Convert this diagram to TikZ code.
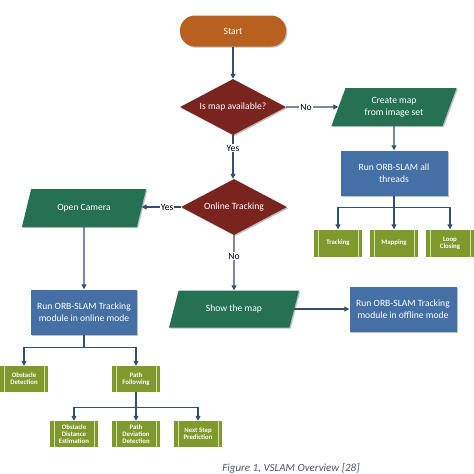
\documentclass[tikz,border=0pt]{standalone}
\usepackage{fontspec}
\setmainfont{Carlito}
\usepackage{tikz}
\usetikzlibrary{shapes.geometric, shapes.misc, arrows.meta, positioning, calc, shadows}
\definecolor{startcol}{RGB}{184,96,32}
\definecolor{decicol}{RGB}{122,36,32}
\definecolor{iocol}{RGB}{38,112,84}
\definecolor{proccol}{RGB}{68,112,166}
\definecolor{subcol}{RGB}{126,154,44}
\definecolor{linecol}{RGB}{52,78,112}
\definecolor{captcol}{RGB}{78,90,112}
\tikzset{
  softshadow/.style={drop shadow={shadow xshift=1.2pt, shadow yshift=-1.2pt, opacity=0.25, fill=black}},
}

\begin{document}
\begin{tikzpicture}[
  x=1pt,y=1pt,
  terminal/.style={
    rectangle, rounded corners=15pt, fill=startcol, text=white,
    minimum width=106pt, minimum height=31pt, font=\fontsize{9.6}{11.5}\selectfont, softshadow
  },
  decision/.style={
    diamond, aspect=2, inner sep=0pt, fill=decicol, text=white,
    minimum width=106pt, minimum height=56pt, font=\fontsize{9.6}{11.5}\selectfont, softshadow
  },
  io/.style={
    trapezium, trapezium left angle=70, trapezium right angle=110, trapezium stretches=true,
    fill=iocol, text=white, minimum width=126pt, minimum height=38pt,
    align=center, font=\fontsize{9.6}{11.5}\selectfont, softshadow
  },
  process/.style={
    rectangle, fill=proccol, text=white, minimum width=107pt, minimum height=45pt,
    align=center, font=\fontsize{9.6}{11.5}\selectfont, softshadow
  },
  subproc/.style={
    rectangle, fill=subcol, text=white, minimum width=48pt, minimum height=26pt,
    inner sep=1pt, align=center, font=\fontsize{6.8}{7}\selectfont\bfseries,
    path picture={
      \draw[white!65!subcol, line width=0.8pt]
        ([xshift=4pt]path picture bounding box.north west) -- ([xshift=4pt]path picture bounding box.south west)
        ([xshift=-4pt]path picture bounding box.north east) -- ([xshift=-4pt]path picture bounding box.south east);
    }
  },
  arrow/.style={-{Triangle[length=5pt,width=5pt]}, line width=1.3pt, draw=linecol},
  lbl/.style={font=\fontsize{9.6}{11.5}\selectfont, fill=white, inner sep=1pt}
]
\useasboundingbox (0,0) rectangle (474,-474);

% ---- main column ----
\node[terminal] (start)   at (233,-31)  {Start};
\node[decision] (avail)   at (233,-107) {Is map available?};
\node[decision] (online)  at (234,-207) {Online Tracking};
\node[io, minimum width=130pt, minimum height=37pt] (showmap) at (234,-309) {Show the map};

% ---- offline map building (right) ----
\node[io]      (create)  at (394,-107) {Create map\\from image set};
\node[process] (allthr)  at (394,-173) {Run ORB-SLAM all\\threads};
\node[subproc, minimum height=27pt] (track)   at (338,-243) {Tracking};
\node[subproc, minimum height=27pt] (mapping) at (394,-243) {Mapping};
\node[subproc, minimum height=27pt] (loopcl)  at (450,-243) {Loop\\Closing};
\node[process] (offline) at (403,-309) {Run ORB-SLAM Tracking\\module in offline mode};

% ---- online tracking (left) ----
\node[io, minimum width=125pt] (opencam) at (84,-208) {Open Camera};
\node[process, minimum width=106pt] (onmode) at (84,-312) {Run ORB-SLAM Tracking\\module in online mode};
\node[subproc] (obst)  at (24,-379)  {Obstacle\\Detection};
\node[subproc] (pathf) at (136,-379) {Path\\Following};
\node[subproc] (odist) at (74,-434)  {Obstacle\\Distance\\Estimation};
\node[subproc] (pdev)  at (136,-434) {Path\\Deviation\\Detection};
\node[subproc] (nstep) at (198,-434) {Next Step\\Prediction};

% ---- connectors ----
\draw[arrow] (start) -- (avail);
\draw[arrow] (avail.east) -- node[lbl, pos=0.38] {No} (create.west);
\draw[arrow] (avail.south) -- node[lbl, pos=0.3] {Yes} (avail.south |- online.north);
\draw[arrow] (online.west) -- node[lbl, pos=0.35] {Yes} (online.west -| opencam.east);
\draw[arrow] (online.south) -- node[lbl, pos=0.38] {No} (showmap.north);
\draw[arrow] (showmap.east) -- (showmap.east -| offline.west);

\draw[arrow] (create) -- (allthr);
\draw[arrow] (allthr.south) -- ++(0,-12) -| (track.north);
\draw[arrow] (allthr.south) -- (mapping.north);
\draw[arrow] (allthr.south) -- ++(0,-12) -| (loopcl.north);

\draw[arrow] (opencam) -- (onmode);
\draw[arrow] (onmode.south) -- ++(0,-13) -| (obst.north);
\draw[arrow] (onmode.south) -- ++(0,-13) -| (pathf.north);

\draw[arrow] (pathf.south) -- ++(0,-15) -| (odist.north);
\draw[arrow] (pathf.south) -- (pdev.north);
\draw[arrow] (pathf.south) -- ++(0,-15) -| (nstep.north);

% ---- caption ----
\node[font=\fontsize{11}{13}\selectfont\itshape, text=captcol] (caption) at (291,-468) {Figure 1, VSLAM Overview [28]};

\end{tikzpicture}
\end{document}
